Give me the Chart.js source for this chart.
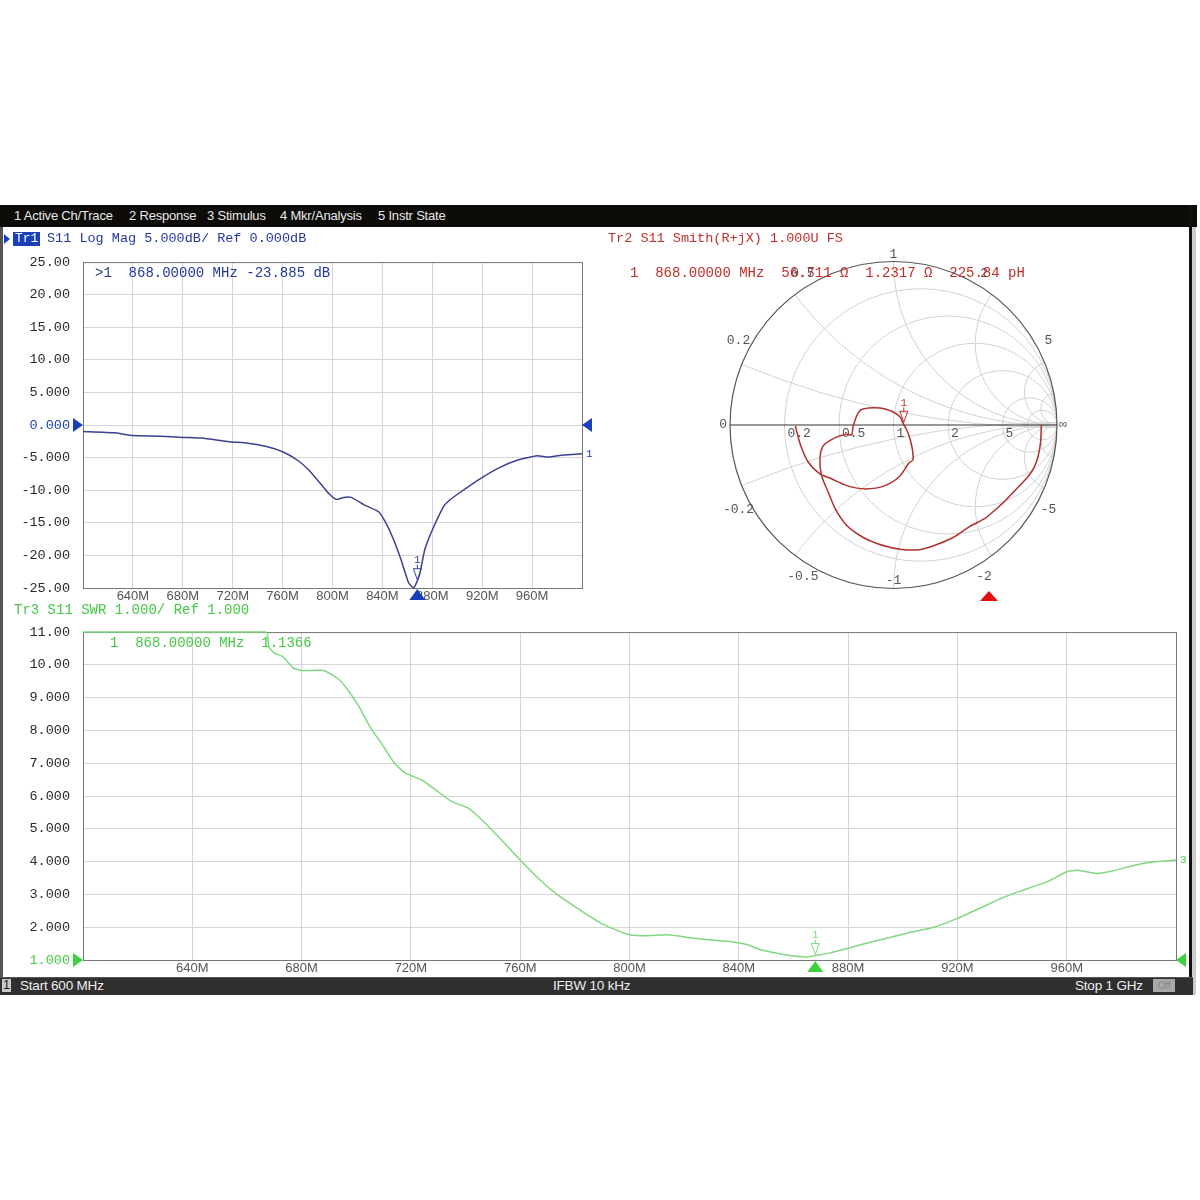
<!DOCTYPE html>
<html lang="en">
<head>
<meta charset="UTF-8">
<title>S11 - Log Mag / Smith / SWR</title>
<script src="https://cdn.jsdelivr.net/npm/chart.js@4.4.1/dist/chart.umd.min.js"></script>
<style>
  body { margin: 0; background: #fff; }
  #wrap { position: relative; width: 1200px; height: 1200px; overflow: hidden; background: #fff; }
  .abs { position: absolute; white-space: pre; }
  .mono { font-family: "Liberation Mono", "DejaVu Sans Mono", monospace; }
  .sans { font-family: "Liberation Sans", Arial, sans-serif; }
  canvas { position: absolute; }
  #menubar { left: 0; top: 205px; width: 1197px; height: 22px; background: #0e0c09; }
  .menu { top: 205px; height: 22px; line-height: 22px; font-size: 13px; color: #e8e8e8; letter-spacing: -0.2px; }
  #status { left: 0; top: 977px; width: 1193px; height: 17px; background: #2f2f2f; border-top: 1px solid #555; }
  .stat { top: 978px; height: 16px; line-height: 16px; font-size: 13.5px; color: #eee; letter-spacing: -0.2px; }
  .txt { height: 14px; line-height: 14px; }
</style>
</head>
<body>
<div id="wrap">
  <div id="menubar" class="abs"></div>
  <div class="abs sans menu" style="left:14px">1 Active Ch/Trace</div>
  <div class="abs sans menu" style="left:129px">2 Response</div>
  <div class="abs sans menu" style="left:207px">3 Stimulus</div>
  <div class="abs sans menu" style="left:280px">4 Mkr/Analysis</div>
  <div class="abs sans menu" style="left:378px">5 Instr State</div>

  <div class="abs" style="left:0;top:227px;width:3px;height:750px;background:#555"></div>
  <div class="abs" style="left:1189px;top:205px;width:3px;height:790px;background:#111"></div>
  <div class="abs" style="left:1192px;top:227px;width:4px;height:768px;background:#ccc"></div>

  <canvas id="magChart" width="600" height="369" style="left:0;top:241px"></canvas>
  <canvas id="smithChart" width="400" height="370" style="left:700px;top:240px"></canvas>
  <canvas id="swrChart" width="1200" height="371" style="left:0;top:611px"></canvas>

  <!-- trace headers and marker readouts -->
  <div class="abs" style="left:4px;top:234px;width:0;height:0;border-top:5px solid transparent;border-bottom:5px solid transparent;border-left:6px solid #1b3fb8"></div>
  <div class="abs mono txt" style="left:13px;top:232px;font-size:13px;color:#fff;background:#1b3fb8;padding:0 2px">Tr1</div>
  <div class="abs mono txt" style="left:47px;top:232px;font-size:13.5px;color:#24389c">S11 Log Mag 5.000dB/ Ref 0.000dB</div>
  <div class="abs mono txt" style="left:95px;top:266px;font-size:14px;color:#24389c">&gt;1  868.00000 MHz -23.885 dB</div>

  <div class="abs mono txt" style="left:608px;top:232px;font-size:13.5px;color:#c0302c">Tr2 S11 Smith(R+jX) 1.000U FS</div>
  <div class="abs mono txt" style="left:630px;top:266px;font-size:14px;color:#c0302c">1  868.00000 MHz  56.711 Ω  1.2317 Ω  225.84 pH</div>

  <div class="abs mono txt" style="left:14px;top:603px;font-size:14px;color:#45c845">Tr3 S11 SWR 1.000/ Ref 1.000</div>
  <div class="abs mono txt" style="left:110px;top:636px;font-size:14px;color:#45c845">1  868.00000 MHz  1.1366</div>

  <div id="status" class="abs"></div>
  <div class="abs sans stat" style="left:2px;top:979px;width:9px;height:13px;line-height:13px;background:#c8c8c8;color:#111;text-align:center;font-size:12px">1</div>
  <div class="abs sans stat" style="left:20px">Start 600 MHz</div>
  <div class="abs sans stat" style="left:553px">IFBW 10 kHz</div>
  <div class="abs sans stat" style="left:1075px">Stop 1 GHz</div>
  <div class="abs sans stat" style="left:1153px;top:979px;width:22px;height:13px;line-height:13px;background:#a9a9a9;color:#888;font-size:10px;text-align:center">Off</div>
</div>

<script>
  // Tr1: S11 log magnitude (MHz, dB)
  const magFreq = [600, 625, 640, 662, 680, 695, 717, 732, 747, 760, 772, 781, 790, 797, 803, 809, 815, 825, 837, 843,
                   849, 855, 861, 865, 868, 870, 874, 880, 889, 894, 901, 917, 933, 948, 964, 973, 985, 1000];
  const magDb = [-1.0, -1.2, -1.6, -1.7, -1.9, -2.0, -2.55, -2.8, -3.3, -4.1, -5.4, -6.9, -8.9, -10.5, -11.4, -11.1, -11.1, -12.2, -13.3, -15.1,
                 -17.6, -20.7, -24.2, -25.0, -23.9, -22.8, -19.1, -16.1, -12.5, -11.5, -10.5, -8.4, -6.6, -5.4, -4.7, -4.9, -4.6, -4.4];

  // Tr3: S11 SWR (clamped at the top of the grid below ~667 MHz)
  const swrFreq = [600, 667, 668, 670, 673, 677, 680, 688, 693, 696, 701, 705, 710, 714, 718, 724, 729, 735, 741, 746,
                   752, 760, 766, 773, 780, 789, 795, 800, 806, 814, 823, 831, 838, 843, 848, 857, 865, 868, 873, 880,
                   887, 896, 904, 911, 920, 929, 936, 943, 953, 960, 964, 971, 977, 983, 990, 1000];
  const swrVal = [11, 11, 10.56, 10.36, 10.26, 9.90, 9.83, 9.83, 9.6, 9.34, 8.73, 8.12, 7.51, 7.0, 6.70, 6.49, 6.19, 5.83, 5.63, 5.27,
                  4.76, 4.05, 3.54, 3.03, 2.63, 2.15, 1.92, 1.77, 1.74, 1.77, 1.67, 1.60, 1.55, 1.47, 1.31, 1.16, 1.09, 1.14, 1.21, 1.36,
                  1.52, 1.70, 1.87, 1.99, 2.27, 2.61, 2.88, 3.10, 3.39, 3.69, 3.74, 3.64, 3.72, 3.85, 3.97, 4.05];

  // Tr2: Smith trace, reflection coefficient (real, imag) from 600 MHz to 1 GHz
  const smithRe = [0.904, 0.900, 0.885, 0.860, 0.827, 0.745, 0.674, 0.600, 0.557, 0.460, 0.370, 0.253, 0.160, 0.042, -0.098, -0.190,
                   -0.286, -0.356, -0.400, -0.440, -0.450, -0.430, -0.356, -0.286, -0.256, -0.248, -0.217, -0.187, -0.083, -0.003,
                   0.040, 0.058, 0.089, 0.113, 0.119, 0.095, 0.036, -0.052, -0.169, -0.286, -0.380, -0.450, -0.520, -0.567, -0.590, -0.600];
  const smithIm = [0.000, -0.100, -0.190, -0.260, -0.311, -0.400, -0.474, -0.540, -0.575, -0.626, -0.687, -0.738, -0.765, -0.762, -0.728, -0.687,
                   -0.616, -0.514, -0.410, -0.310, -0.210, -0.128, -0.077, -0.057, -0.061, -0.012, 0.073, 0.098, 0.104, 0.080,
                   0.049, 0.012, -0.049, -0.135, -0.214, -0.232, -0.316, -0.372, -0.392, -0.372, -0.330, -0.300, -0.230, -0.128, -0.047, -0.006];

  // marker 1 readouts
  const mkFreq = 868;
  const mkDb = -23.885;
  const mkSwr = 1.1366;
  const mkR = 56.711, mkX = 1.2317, z0 = 50;

  // axes
  const freqTicks = [600, 640, 680, 720, 760, 800, 840, 880, 920, 960, 1000];
  const freqLabels = ['', '640M', '680M', '720M', '760M', '800M', '840M', '880M', '920M', '960M', ''];
  const magTicks = [25, 20, 15, 10, 5, 0, -5, -10, -15, -20, -25];
  const magLabels = ['25.00', '20.00', '15.00', '10.00', '5.000', '0.000', '-5.000', '-10.00', '-15.00', '-20.00', '-25.00'];
  const swrTicks = [11, 10, 9, 8, 7, 6, 5, 4, 3, 2, 1];
  const swrLabels = ['11.00', '10.00', '9.000', '8.000', '7.000', '6.000', '5.000', '4.000', '3.000', '2.000', '1.000'];
  const smithR = [0.2, 0.5, 1, 2, 5, 10];
  const smithRLabels = ['0.2', '0.5', '1', '2', '5', ''];
  const smithX = [0.2, 0.5, 1, 2, 5, 10];
  const smithXLabels = ['0.2', '0.5', '1', '2', '5', ''];

  const MONO = '"Liberation Mono", "DejaVu Sans Mono", monospace';
  const SANS = '"Liberation Sans", Arial, sans-serif';
  const BLUE = '#1b3fb8', BLUE_TR = '#3c4090';
  const RED = '#c0302c', RED_TR = '#b03030';
  const GREEN = '#3fd03f', GREEN_TR = '#80d880';

  Chart.defaults.font.family = MONO;

  function tri(ctx, pts, fill, color) {
    ctx.beginPath();
    ctx.moveTo(pts[0], pts[1]);
    ctx.lineTo(pts[2], pts[3]);
    ctx.lineTo(pts[4], pts[5]);
    ctx.closePath();
    if (fill) { ctx.fillStyle = color; ctx.fill(); } else { ctx.strokeStyle = color; ctx.lineWidth = 1; ctx.stroke(); }
  }

  // draws the marker ▽ with its number over a point
  function markerFlag(ctx, x, y, color) {
    tri(ctx, [x - 4, y - 12, x + 4, y - 12, x, y - 1], false, color);
    ctx.beginPath(); ctx.moveTo(x, y - 12); ctx.lineTo(x, y - 16); ctx.stroke();
    ctx.fillStyle = color;
    ctx.font = '11px ' + MONO;
    ctx.textAlign = 'center'; ctx.textBaseline = 'bottom';
    ctx.fillText('1', x, y - 15);
  }

  const framePlugin = {
    id: 'frame',
    beforeDatasetsDraw(chart) {
      const a = chart.chartArea, ctx = chart.ctx;
      ctx.save();
      ctx.strokeStyle = '#777'; ctx.lineWidth = 1;
      ctx.strokeRect(a.left + 0.5, a.top + 0.5, a.right - a.left, a.bottom - a.top);
      ctx.restore();
    }
  };

  function markerPlugin(o) {
    return {
      id: 'markers',
      afterDraw(chart) {
        const { ctx, chartArea: a, scales: { x, y } } = chart;
        ctx.save();
        const ry = y.getPixelForValue(o.ref);
        tri(ctx, [a.left - 10, ry - 7, a.left, ry, a.left - 10, ry + 7], true, o.color);
        tri(ctx, [a.right + 10, ry - 7, a.right, ry, a.right + 10, ry + 7], true, o.color);
        const mx = x.getPixelForValue(mkFreq);
        tri(ctx, [mx - 8, a.bottom + 12, mx, a.bottom + 1, mx + 8, a.bottom + 12], true, o.color);
        markerFlag(ctx, mx, y.getPixelForValue(o.mkVal), o.traceColor);
        ctx.fillStyle = o.color;
        ctx.font = '11px ' + MONO;
        ctx.textAlign = 'left'; ctx.textBaseline = 'middle';
        ctx.fillText(o.num, a.right + 4, y.getPixelForValue(o.last));
        ctx.restore();
      }
    };
  }

  function lineChart(id, freq, vals, o) {
    return new Chart(document.getElementById(id), {
      type: 'line',
      data: {
        datasets: [{
          data: freq.map((f, i) => ({ x: f, y: vals[i] })),
          borderColor: o.traceColor, borderWidth: 1.5, pointRadius: 0, tension: 0.15, clip: 2
        }]
      },
      options: {
        responsive: false, animation: false, devicePixelRatio: 1,
        layout: { padding: o.pad },
        plugins: { legend: { display: false }, tooltip: { enabled: false } },
        scales: {
          x: {
            type: 'linear', min: 600, max: 1000,
            afterBuildTicks: s => { s.ticks = freqTicks.map(v => ({ value: v })); },
            afterFit: s => { s.height = o.xh; },
            ticks: { autoSkip: false, maxRotation: 0, padding: 1, color: '#555', font: { family: SANS, size: 13 },
                     callback: v => freqLabels[freqTicks.indexOf(v)] },
            grid: { color: '#d6d6d6', drawTicks: false },
            border: { color: '#777' }
          },
          y: {
            min: o.ticks[o.ticks.length - 1], max: o.ticks[0],
            afterBuildTicks: s => { s.ticks = o.ticks.map(v => ({ value: v })); },
            afterFit: s => { s.width = 83; },
            ticks: { padding: 13, font: { size: 13.5 },
                     color: c => (c.tick && c.tick.value === o.ref) ? o.color : '#2a2a2a',
                     callback: v => o.labels[o.ticks.indexOf(v)] },
            grid: { color: '#d6d6d6', drawTicks: false },
            border: { color: '#777' }
          }
        }
      },
      plugins: [framePlugin, markerPlugin(o)]
    });
  }

  lineChart('magChart', magFreq, magDb, {
    pad: { top: 3, right: 18 }, xh: 22, ticks: magTicks, labels: magLabels, ref: 0,
    color: BLUE, traceColor: BLUE_TR, mkVal: mkDb, num: '1', last: magDb[magDb.length - 1]
  });

  lineChart('swrChart', swrFreq, swrVal, {
    pad: { top: 3, right: 24 }, xh: 22, ticks: swrTicks, labels: swrLabels, ref: 1,
    color: GREEN, traceColor: GREEN_TR, mkVal: mkSwr, num: '3', last: swrVal[swrVal.length - 1]
  });

  // Smith chart grid drawn through the (hidden) linear scales
  const smithGrid = {
    id: 'smithGrid',
    beforeDatasetsDraw(chart) {
      const { ctx, scales: { x, y } } = chart;
      const cx = x.getPixelForValue(0), cy = y.getPixelForValue(0);
      const R = x.getPixelForValue(1) - cx;
      ctx.save();
      ctx.beginPath(); ctx.arc(cx, cy, R, 0, 2 * Math.PI); ctx.clip();
      ctx.strokeStyle = '#d2d2d2'; ctx.lineWidth = 1;
      smithR.forEach(r => {
        ctx.beginPath(); ctx.arc(x.getPixelForValue(r / (r + 1)), cy, R / (r + 1), 0, 2 * Math.PI); ctx.stroke();
      });
      smithX.forEach(xv => [1, -1].forEach(s => {
        ctx.beginPath(); ctx.arc(x.getPixelForValue(1), y.getPixelForValue(s / xv), R / xv, 0, 2 * Math.PI); ctx.stroke();
      }));
      ctx.restore();

      ctx.save();
      ctx.strokeStyle = '#555'; ctx.lineWidth = 1.2;
      ctx.beginPath(); ctx.arc(cx, cy, R, 0, 2 * Math.PI); ctx.stroke();
      ctx.strokeStyle = '#333';
      ctx.beginPath(); ctx.moveTo(cx - R, cy); ctx.lineTo(cx + R, cy); ctx.stroke();

      ctx.fillStyle = '#555';
      ctx.font = '13px ' + MONO;
      ctx.textBaseline = 'middle';
      ctx.textAlign = 'right'; ctx.fillText('0', cx - R - 3, cy);
      ctx.textAlign = 'left'; ctx.fillText('∞', cx + R + 2, cy);
      smithR.forEach((r, i) => {
        ctx.fillText(smithRLabels[i], x.getPixelForValue((r - 1) / (r + 1)) + 3, cy + 9);
      });
      ctx.textAlign = 'center';
      smithX.forEach((xv, i) => [1, -1].forEach(s => {
        if (!smithXLabels[i]) return;
        let th = Math.atan2(2 * xv, xv * xv - 1);
        const shift = 6 * Math.PI / 180;
        if (th > Math.PI / 2 + 0.01) th -= shift; else if (th < Math.PI / 2 - 0.01) th += shift;
        let rr = 1.08;
        if (xv === 1) rr = s > 0 ? 1.045 : 0.95;
        const lx = cx + R * rr * Math.cos(th), ly = cy - s * R * rr * Math.sin(th);
        ctx.fillText((s < 0 ? '-' : '') + smithXLabels[i], lx, ly);
      }));
      ctx.restore();
    },
    afterDatasetsDraw(chart) {
      const { ctx, scales: { x, y } } = chart;
      // marker 1 reflection coefficient from its impedance readout
      const zr = mkR / z0, zi = mkX / z0;
      const d = (zr + 1) * (zr + 1) + zi * zi;
      const gr = ((zr - 1) * (zr + 1) + zi * zi) / d;
      const gi = (zi * (zr + 1) - (zr - 1) * zi) / d;
      ctx.save();
      markerFlag(ctx, x.getPixelForValue(gr), y.getPixelForValue(gi), RED);
      const ax = x.getPixelForValue(0.584), ay = y.getPixelForValue(-1);
      tri(ctx, [ax - 9, ay + 13, ax, ay + 3, ax + 9, ay + 13], true, '#e01010');
      ctx.restore();
    }
  };

  new Chart(document.getElementById('smithChart'), {
    type: 'scatter',
    data: {
      datasets: [{
        data: smithRe.map((r, i) => ({ x: r, y: smithIm[i] })),
        showLine: true, borderColor: RED_TR, borderWidth: 1.5, pointRadius: 0, tension: 0.3
      }]
    },
    options: {
      responsive: false, animation: false, devicePixelRatio: 1,
      layout: { padding: { left: 30, right: 43, top: 22, bottom: 22 } },
      plugins: { legend: { display: false }, tooltip: { enabled: false } },
      scales: {
        x: { type: 'linear', min: -1, max: 1, display: false },
        y: { type: 'linear', min: -1, max: 1, display: false }
      }
    },
    plugins: [smithGrid]
  });
</script>
</body>
</html>
